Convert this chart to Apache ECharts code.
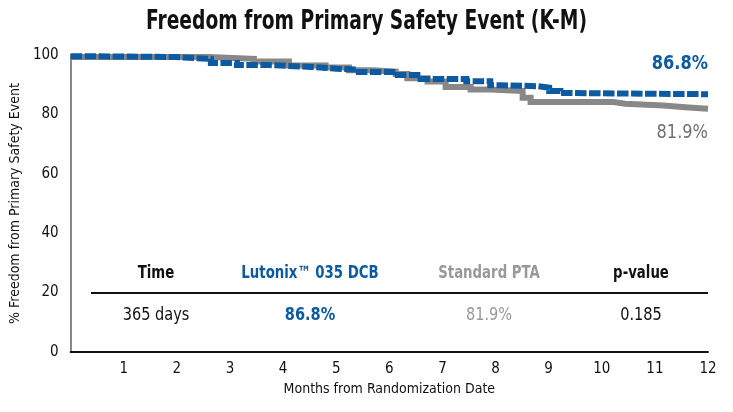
<!DOCTYPE html>
<html>
<head>
<meta charset="utf-8">
<script src="https://cdn.jsdelivr.net/npm/echarts@6/dist/echarts.min.js"></script>
<style>
html,body{margin:0;padding:0;background:#fff;}
#chart{width:733px;height:412px;}
</style>
</head>
<body>
<div id="chart"></div>
<script>
// ---- data ----
const chartTitle = 'Freedom from Primary Safety Event (K-M)';
const xAxisName = 'Months from Randomization Date';
const yAxisName = '% Freedom from Primary Safety Event';
const monthTicks = [0,1,2,3,4,5,6,7,8,9,10,11,12];

const lutonixMonths = [0, 0.39, 1.98, 2.64, 3.13, 3.73, 4.54, 5.01, 5.37, 6.16, 6.59, 7.45, 7.90, 8.09, 8.79, 9.01, 9.22, 9.39, 12];
const lutonixPct    = [99.6, 99.3, 98.7, 97.3, 96.6, 96.0, 95.4, 95.1, 94.3, 93.3, 91.9, 91.2, 89.8, 89.5, 89.0, 87.9, 87.2, 86.8, 86.8];

const ptaMonths = [0, 2.60, 3.45, 4.11, 4.80, 5.24, 5.69, 6.12, 6.34, 6.72, 7.06, 7.53, 7.90, 8.51, 8.66, 10.22, 10.44, 11.16, 11.57, 12];
const ptaPct    = [99.3, 98.7, 97.8, 96.5, 95.8, 94.9, 94.4, 93.6, 92.2, 91.1, 89.2, 88.4, 87.9, 85.6, 84.2, 83.6, 83.0, 82.4, 81.9, 81.9];

const endLabels = ['86.8%', '81.9%'];
const tableHeaders = ['Time', 'Lutonix\u2122 035 DCB', 'Standard PTA', 'p-value'];
const tableRow = ['365 days', '86.8%', '81.9%', '0.185'];

// ---- style ----
const BLUE = '#0b5aa2';
const GRAY = '#888888';
const FONT = '"Liberation Sans Narrow", "DejaVu Sans Condensed", "Roboto", sans-serif';

const chart = echarts.init(document.getElementById('chart'));

const lutonixData = lutonixMonths.map((m, i) => [m, lutonixPct[i]]);
const ptaData = ptaMonths.map((m, i) => [m, ptaPct[i]]);

const colX = [156, 310, 489, 641];
const headerColors = ['#111', BLUE, '#999999', '#111'];
const rowColors = ['#111', BLUE, '#999999', '#111'];
const rowWeights = ['normal', 'bold', 'normal', 'normal'];

const graphics = [];
graphics.push({
  type: 'text', x: 366.5, y: 22, scaleX: 0.77,
  style: { text: chartTitle, fill: '#111', font: 'bold 27px ' + FONT, textAlign: 'center', textVerticalAlign: 'middle' }
});
tableHeaders.forEach((t, i) => {
  graphics.push({
    type: 'text',
    x: colX[i], y: 274, scaleX: 0.87,
    style: { text: t, fill: headerColors[i], font: 'bold 17px ' + FONT, textAlign: 'center', textVerticalAlign: 'middle' }
  });
});
tableRow.forEach((t, i) => {
  graphics.push({
    type: 'text',
    x: colX[i], y: 316, scaleX: 0.95,
    style: { text: t, fill: rowColors[i], font: rowWeights[i] + ' 17px ' + FONT, textAlign: 'center', textVerticalAlign: 'middle' }
  });
});
graphics.push({
  type: 'line',
  shape: { x1: 91, y1: 293, x2: 708, y2: 293 },
  style: { stroke: '#111', lineWidth: 2 }
});
graphics.push({
  type: 'text', x: 708, y: 64, scaleX: 0.9,
  style: { text: endLabels[0], fill: BLUE, font: 'bold 20px ' + FONT, textAlign: 'right', textVerticalAlign: 'middle' }
});
graphics.push({
  type: 'text', x: 708, y: 133, scaleX: 0.9,
  style: { text: endLabels[1], fill: '#707070', font: 'normal 20px ' + FONT, textAlign: 'right', textVerticalAlign: 'middle' }
});

const option = {
  animation: false,
  backgroundColor: '#fff',
  grid: { left: 70, right: 25, top: 55, bottom: 60, containLabel: false },
  xAxis: {
    type: 'value',
    min: 0, max: 12, interval: 1,
    name: xAxisName,
    nameLocation: 'middle',
    nameGap: 27,
    nameTextStyle: { fontFamily: FONT, fontSize: 14, color: '#111' },
    axisLine: { show: true, lineStyle: { color: '#111', width: 2 } },
    axisTick: { show: false },
    splitLine: { show: false },
    axisLabel: {
      margin: 10,
      fontFamily: FONT, fontSize: 15, color: '#111',
      formatter: v => (v === monthTicks[0] ? '' : String(v))
    }
  },
  yAxis: {
    type: 'value',
    min: 0, max: 100, interval: 20,
    name: yAxisName,
    nameLocation: 'middle',
    nameGap: 38,
    nameTextStyle: { fontFamily: FONT, fontSize: 14, color: '#111' },
    axisLine: { show: true, lineStyle: { color: GRAY, width: 2 } },
    axisTick: { show: false },
    splitLine: { show: false },
    axisLabel: { margin: 12, fontFamily: FONT, fontSize: 15, color: '#111' }
  },
  series: [
    {
      name: 'Standard PTA',
      type: 'line',
      step: 'end',
      data: ptaData,
      symbol: 'none',
      z: 2,
      lineStyle: { color: GRAY, width: 6, cap: 'butt', join: 'miter' }
    },
    {
      name: 'Lutonix 035 DCB',
      type: 'line',
      step: 'end',
      data: lutonixData,
      symbol: 'none',
      z: 3,
      lineStyle: { color: BLUE, width: 6, type: [11.5, 2.5], cap: 'butt', join: 'miter' }
    }
  ],
  graphic: graphics
};
chart.setOption(option);
</script>
</body>
</html>
